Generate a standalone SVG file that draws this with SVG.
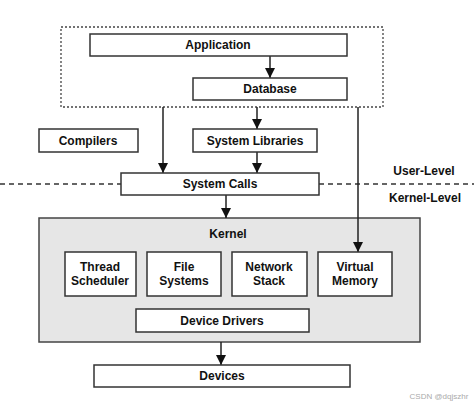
<svg xmlns="http://www.w3.org/2000/svg" width="474" height="405" viewBox="0 0 474 405">
<style>
.box{fill:#fff;stroke:#333;stroke-width:1.5}
.t{font-family:"Liberation Sans",Arial,sans-serif;font-weight:bold;font-size:12px;fill:#111;text-anchor:middle}
.c{stroke:#222;stroke-width:1.5;fill:none}
</style>
<defs>
<marker id="ah" viewBox="0 0 10 10" refX="10" refY="5" markerWidth="10" markerHeight="10" markerUnits="userSpaceOnUse" orient="auto">
<path d="M0,0 L10,5 L0,10 z" fill="#111"/>
</marker>
</defs>
<rect width="474" height="405" fill="#fff"/>
<g id="user-group"><rect x="61" y="27" width="322" height="80" fill="none" stroke="#444" stroke-width="1.3" stroke-dasharray="2,2"/></g>
<g id="levels">
<line x1="0" y1="184" x2="121" y2="184" stroke="#333" stroke-width="1.3" stroke-dasharray="5,4"/>
<line x1="319" y1="184" x2="474" y2="184" stroke="#333" stroke-width="1.3" stroke-dasharray="5,4"/>
<text class="t" x="424" y="175">User-Level</text>
<text class="t" x="425" y="202">Kernel-Level</text>
</g>
<g id="kernel"><rect x="39" y="218" width="381" height="124" fill="#e6e6e6" stroke="#444" stroke-width="1.5"/><text class="t" x="228" y="238">Kernel</text></g>
<g id="connectors">
<line class="c" x1="270" y1="56" x2="270" y2="78" marker-end="url(#ah)"/>
<line class="c" x1="257" y1="107" x2="257" y2="129" marker-end="url(#ah)"/>
<line class="c" x1="163" y1="107" x2="163" y2="173" marker-end="url(#ah)"/>
<line class="c" x1="257" y1="152" x2="257" y2="173" marker-end="url(#ah)"/>
<line class="c" x1="226" y1="195" x2="226" y2="218" marker-end="url(#ah)"/>
<line class="c" x1="358" y1="107" x2="358" y2="252" marker-end="url(#ah)"/>
<line class="c" x1="221" y1="342" x2="221" y2="365" marker-end="url(#ah)"/>
</g>
<g id="application"><rect class="box" x="90" y="34" width="257" height="22"/><text class="t" x="218" y="49">Application</text></g>
<g id="database"><rect class="box" x="193" y="78" width="154" height="22"/><text class="t" x="270" y="93">Database</text></g>
<g id="compilers"><rect class="box" x="39" y="129" width="99" height="23"/><text class="t" x="88" y="145">Compilers</text></g>
<g id="system-libraries"><rect class="box" x="193" y="129" width="124" height="23"/><text class="t" x="255" y="145">System Libraries</text></g>
<g id="system-calls"><rect class="box" x="121" y="173" width="198" height="22"/><text class="t" x="220" y="188">System Calls</text></g>
<g id="thread-scheduler"><rect class="box" x="65" y="252" width="71" height="44"/><text class="t" x="100" y="271">Thread</text><text class="t" x="100" y="285">Scheduler</text></g>
<g id="file-systems"><rect class="box" x="147" y="252" width="74" height="44"/><text class="t" x="184" y="271">File</text><text class="t" x="184" y="285">Systems</text></g>
<g id="network-stack"><rect class="box" x="232" y="252" width="75" height="44"/><text class="t" x="269" y="271">Network</text><text class="t" x="269" y="285">Stack</text></g>
<g id="virtual-memory"><rect class="box" x="318" y="252" width="74" height="44"/><text class="t" x="355" y="271">Virtual</text><text class="t" x="355" y="285">Memory</text></g>
<g id="device-drivers"><rect class="box" x="136" y="309" width="173" height="23"/><text class="t" x="222" y="325">Device Drivers</text></g>
<g id="devices"><rect class="box" x="94" y="365" width="256" height="22"/><text class="t" x="222" y="380">Devices</text></g>
<text x="439" y="399" font-family="Liberation Sans,Arial,sans-serif" font-size="8" fill="#aaa" text-anchor="middle">CSDN @dqjszhr</text>
</svg>
